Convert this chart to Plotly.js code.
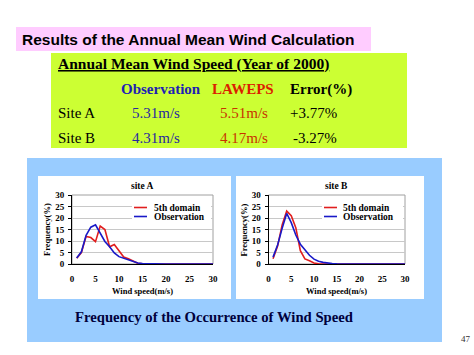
<!DOCTYPE html>
<html>
<head>
<meta charset="utf-8">
<script src="https://cdn.plot.ly/plotly-3.0.1.min.js"></script>
<style>html,body{margin:0;padding:0;background:#fff;}#chart{width:474px;height:355px;}</style>
</head>
<body>
<div id="chart"></div>
<script>
// ---- data ----
var windSpeed = [1,2,3,4,5,6,7,8,9,10,11,12,13,14,15,16,17,18,19,20,21,22,23,24,25,26,27,28,29,30];
var siteA_5th = [2.5,5,12,11.5,9.7,16.5,15,7.5,8.5,5.8,3,2.3,1.4,0.3,0.1,0,0,0,0,0,0,0,0,0,0,0,0,0,0,0];
var siteA_obs = [2.6,5.3,12.5,16,17,13.5,9.8,7.5,4.8,3.2,2.5,1.8,1,0.4,0.2,0.1,0,0,0,0,0,0,0,0,0,0,0,0,0,0];
var siteB_5th = [2.3,7.8,17,23,21,15.8,5.8,2.2,1.4,0.4,0.1,0,0,0,0,0,0,0,0,0,0,0,0,0,0,0,0,0,0,0];
var siteB_obs = [3,8.3,15.5,22,18,12.6,8.6,6,3.8,2.1,1.2,0.7,0.3,0.2,0.1,0,0,0,0,0,0,0,0,0,0,0,0,0,0,0];
var seriesNames = ['5th domain','Observation'];
var chartTitles = ['site A','site B'];
var xTitle = 'Wind speed(m/s)';
var yTitle = 'Frequency(%)';

var tableSites = ['Site A','Site B'];
var tableObs = ['5.31m/s','4.31m/s'];
var tableLaweps = ['5.51m/s','4.17m/s'];
var tableError = ['+3.77%','-3.27%'];
var tableHeaders = ['Observation','LAWEPS','Error(%)'];

// ---- helpers (pixel -> paper) ----
var W = 474, H = 355;
function X(p){return p/W;}
function Y(p){return 1 - p/H;}

var RED = 'rgb(225,30,30)', BLUE = 'rgb(25,25,200)';
var serif = 'Liberation Serif, Times New Roman, serif';
var sans = 'Liberation Sans, Arial, sans-serif';

var traces = [
  {x: windSpeed, y: siteA_5th, name: seriesNames[0], type:'scatter', mode:'lines', line:{color:RED, width:1.6}, xaxis:'x', yaxis:'y', showlegend:false},
  {x: windSpeed, y: siteA_obs, name: seriesNames[1], type:'scatter', mode:'lines', line:{color:BLUE, width:1.6}, xaxis:'x', yaxis:'y', showlegend:false},
  {x: windSpeed, y: siteB_5th, name: seriesNames[0], type:'scatter', mode:'lines', line:{color:RED, width:1.6}, xaxis:'x2', yaxis:'y2', showlegend:false},
  {x: windSpeed, y: siteB_obs, name: seriesNames[1], type:'scatter', mode:'lines', line:{color:BLUE, width:1.6}, xaxis:'x2', yaxis:'y2', showlegend:false}
];

var plots = [
  {x0:72, x1:213, y0:195, y1:264},
  {x0:268.5, x1:405, y0:195, y1:264}
];

function xax(p, anchor){
  return {domain:[X(p.x0), X(p.x1)], anchor:anchor, range:[0,30], dtick:5, tick0:0,
    showgrid:false, zeroline:false, showline:true, linecolor:'#000', linewidth:1,
    ticks:'', ticklabelstandoff:6, automargin:false, fixedrange:true,
    tickfont:{family:serif, size:9, color:'#000', weight:'bold'}};
}
function yax(p, anchor){
  return {domain:[Y(p.y1), Y(p.y0)], anchor:anchor, range:[0,30], dtick:5, tick0:0,
    showgrid:true, gridcolor:'#c8c8c8', gridwidth:1, zeroline:false, showline:true, linecolor:'#000', linewidth:1,
    ticks:'outside', ticklen:3, tickcolor:'#000', ticklabelstandoff:2, automargin:false, fixedrange:true,
    tickfont:{family:serif, size:9, color:'#000', weight:'bold'}};
}

var shapes = [
  {type:'rect', xref:'paper', yref:'paper', x0:X(16), x1:X(371), y0:Y(51), y1:Y(27), fillcolor:'rgb(255,204,255)', line:{width:0}, layer:'below'},
  {type:'rect', xref:'paper', yref:'paper', x0:X(51), x1:X(407), y0:Y(148), y1:Y(53), fillcolor:'rgb(204,255,51)', line:{width:0}, layer:'below'},
  {type:'rect', xref:'paper', yref:'paper', x0:X(27), x1:X(442), y0:Y(342), y1:Y(158), fillcolor:'rgb(153,204,255)', line:{width:0}, layer:'below'},
  {type:'rect', xref:'paper', yref:'paper', x0:X(38), x1:X(231), y0:Y(299), y1:Y(176), fillcolor:'#fff', line:{width:0}, layer:'below'},
  {type:'rect', xref:'paper', yref:'paper', x0:X(236), x1:X(424), y0:Y(299), y1:Y(176), fillcolor:'#fff', line:{width:0}, layer:'below'}
];
plots.forEach(function(p){
  shapes.push({type:'rect', xref:'paper', yref:'paper', x0:X(p.x0), x1:X(p.x1), y0:Y(p.y1), y1:Y(p.y0), fillcolor:'rgba(0,0,0,0)', line:{width:1, color:'#a0a0a0'}, layer:'below'});
});

var annotations = [];
function txt(t, x, y, opts){
  opts = opts || {};
  var a = {text:t, x:X(x), y:Y(y), xref:'paper', yref:'paper', showarrow:false,
    xanchor:opts.xanchor || 'left', yanchor:'middle', textangle:opts.angle || 0,
    font:{family:opts.family || serif, size:opts.size || 15, color:opts.color || '#000', weight:opts.weight || 'normal'}};
  annotations.push(a);
}

// Slide text
txt('<b>Results of the Annual Mean Wind Calculation</b>', 20, 40, {family:sans, size:15.5});
txt('<b><u>Annual Mean Wind Speed (Year of 2000)</u></b>', 56, 64, {size:15.5});
txt('<b>'+tableHeaders[0]+'</b>', 119, 89, {color:'rgb(30,30,180)'});
txt('<b>'+tableHeaders[1]+'</b>', 210, 89, {color:'rgb(220,30,0)'});
txt('<b>'+tableHeaders[2]+'</b>', 288, 89, {color:'#000'});
var rowY = [113, 138];
for (var i=0;i<tableSites.length;i++){
  txt(tableSites[i], 56, rowY[i]);
  txt(tableObs[i], 130, rowY[i], {color:'rgb(40,40,160)'});
  txt(tableLaweps[i], 270, rowY[i], {color:'rgb(200,50,0)', xanchor:'right'});
  txt(tableError[i], 339, rowY[i], {xanchor:'right'});
}
txt('<b>Frequency of the Occurrence of Wind Speed</b>', 73, 317, {size:14.7, color:'rgb(0,0,60)'});
txt('47', 466, 339, {size:9, color:'#333', xanchor:'center'});

// Chart texts and legends
var legX = [[134,147,152],[324,337,341]];
plots.forEach(function(p, k){
  var cx = (p.x0+p.x1)/2;
  txt('<b>'+chartTitles[k]+'</b>', cx, 186, {size:9.5, xanchor:'center'});
  txt('<b>'+xTitle+'</b>', cx, 291, {size:8.5, xanchor:'center'});
  txt('<b>'+yTitle+'</b>', p.x0-25, 230, {size:8.5, xanchor:'center', angle:-90});
  var L = legX[k];
  // legend box background (covers gridlines; no data passes through this area)
  shapes.push({type:'rect', xref:'paper', yref:'paper', x0:X(L[0]-2), x1:X(p.x1-2), y0:Y(222), y1:Y(202),
    fillcolor:'#fff', line:{width:0}, layer:'above'});
  shapes.push({type:'line', xref:'paper', yref:'paper', x0:X(L[0]), x1:X(L[1]), y0:Y(207.5), y1:Y(207.5), line:{color:RED, width:1.6}, layer:'above'});
  shapes.push({type:'line', xref:'paper', yref:'paper', x0:X(L[0]), x1:X(L[1]), y0:Y(216.5), y1:Y(216.5), line:{color:BLUE, width:1.6}, layer:'above'});
  txt('<b>'+seriesNames[0]+'</b>', L[2], 207.5, {size:9.5});
  txt('<b>'+seriesNames[1]+'</b>', L[2], 216.5, {size:9.5});
});

var layout = {
  width:W, height:H, margin:{l:0,r:0,t:0,b:0}, paper_bgcolor:'#fff', plot_bgcolor:'rgba(0,0,0,0)',
  showlegend:false,
  xaxis: xax(plots[0],'y'), yaxis: yax(plots[0],'x'),
  xaxis2: xax(plots[1],'y2'), yaxis2: yax(plots[1],'x2'),
  shapes: shapes, annotations: annotations
};
Plotly.newPlot('chart', traces, layout, {staticPlot:true, displayModeBar:false});
</script>
</body>
</html>
